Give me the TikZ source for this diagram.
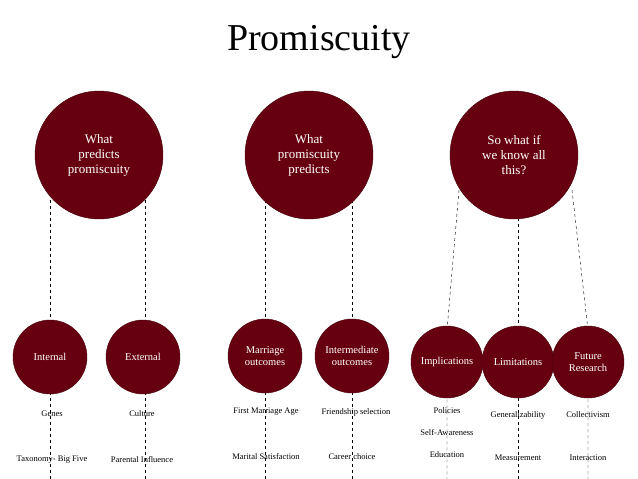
\documentclass[tikz,border=0pt]{standalone}
\usepackage{fontspec}
\setmainfont{Liberation Serif}
\definecolor{maroon}{HTML}{660010}
\begin{document}
\begin{tikzpicture}[x=1pt,y=-1pt,
  big/.style={circle,fill=maroon,draw=maroon!70!black,minimum size=128pt,text=white,align=center,font=\fontsize{13}{15}\selectfont,inner sep=0pt},
  small/.style={circle,fill=maroon,draw=maroon!70!black,minimum size=74pt,text=white,align=center,font=\fontsize{10.5}{12}\selectfont,inner sep=0pt},
  lab/.style={font=\fontsize{8.5}{10}\selectfont,inner sep=1pt},
  dl/.style={dashed,thin,black}]
\useasboundingbox (0,0) rectangle (638,479);
\node (title) at (319,42) {\fontsize{38}{42}\selectfont Promiscuity};
% coordinates
\foreach \n/\x in {a/50,b/145,c/265,d/352,f/518}{
  \coordinate (\n t) at (\x,200); \coordinate (\n b) at (\x,479);}
\coordinate (et) at (459,190); \coordinate (em) at (447,330); \coordinate (eb) at (447,479);
\coordinate (gt) at (572,190); \coordinate (gm) at (588,330); \coordinate (gb) at (588,479);
\draw[dl] (at)--(ab); \draw[dl] (bt)--(bb); \draw[dl] (ct)--(cb); \draw[dl] (dt)--(db);
\draw[dl] (ft)--(fb); \draw[dl] (et)--(em)--(eb); \draw[dl] (gt)--(gm)--(gb);
\node[big] (q1) at (99,155) {What\\predicts\\promiscuity};
\node[big] (q2) at (309,155) {What\\promiscuity\\predicts};
\node[big] (q3) at (514,155) {So what if\\we know all\\this?};
\node[small] (s1) at (50,357) {Internal};
\node[small] (s2) at (143,357) {External};
\node[small] (s3) at (265,356) {Marriage\\outcomes};
\node[small] (s4) at (352,356) {Intermediate\\outcomes};
\node[small,minimum size=72pt] (s5) at (447,362) {Implications};
\node[small,minimum size=72pt] (s6) at (518,362) {Limitations};
\node[small,minimum size=72pt] (s7) at (588,362) {Future\\Research};
\node[lab] (l1) at (52,414) {Genes};
\node[lab] (l2) at (142,414) {Culture};
\node[lab] (l3) at (266,412) {First Marriage Age};
\node[lab] (l4) at (356,412) {Friendship selection};
\node[lab] (l5) at (52,460) {Taxonomy- Big Five};
\node[lab] (l6) at (142,460) {Parental Influence};
\node[lab] (l7) at (266,457) {Marital Satisfaction};
\node[lab] (l8) at (352,457) {Career choice};
\node[lab] (l9) at (447,411) {Policies};
\node[lab] (l10) at (447,433) {Self-Awareness};
\node[lab] (l11) at (447,455) {Education};
\node[lab] (l12) at (518,415) {Generalizability};
\node[lab] (l13) at (588,415) {Collectivism};
\node[lab] (l14) at (518,458) {Measurement};
\node[lab] (l15) at (588,458) {Interaction};
\end{tikzpicture}
\end{document}
